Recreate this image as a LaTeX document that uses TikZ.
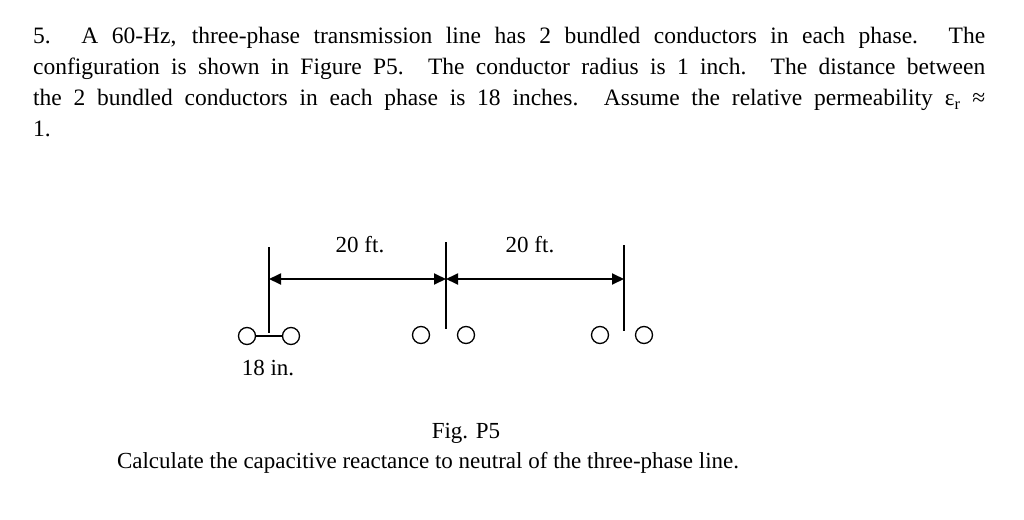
\documentclass[tikz,border=0pt]{standalone}
\usepackage{fontspec}
\setmainfont{Liberation Serif}
\usetikzlibrary{arrows.meta}
\begin{document}
\begin{tikzpicture}[x=1pt,y=-1pt,
  cond/.style={circle,draw,line width=1.3pt,minimum size=17pt,inner sep=0pt},
  tick/.style={line width=1.6pt},
  dim/.style={line width=1.8pt,{Triangle[length=12pt,width=11pt]}-{Triangle[length=12pt,width=11pt]}},
  lbl/.style={font=\fontsize{23}{28}\selectfont,inner sep=0pt}]
\useasboundingbox (0,0) rectangle (1024,519);
\node[anchor=north west,inner sep=0pt,text width=952pt,align=justify,font=\fontsize{23.5}{31}\selectfont] (para) at (33,27)
{5. A 60-Hz, three-phase transmission line has 2 bundled conductors in each phase. The\linebreak
configuration is shown in Figure P5. The conductor radius is 1 inch. The distance between\linebreak
the 2 bundled conductors in each phase is 18 inches. Assume the relative permeability ε\textsubscript{r} ≈\linebreak
1.};
\coordinate (l1) at (269,247); \coordinate (l2) at (269,333);
\coordinate (m1) at (446,242); \coordinate (m2) at (446,329);
\coordinate (r1) at (624,245); \coordinate (r2) at (624,331);
\draw[tick] (l1) -- (l2); \draw[tick] (m1) -- (m2); \draw[tick] (r1) -- (r2);
\coordinate (a1) at (269,279); \coordinate (a2) at (446,279); \coordinate (a3) at (624,279);
\draw[dim] (a1) -- (a2);
\draw[dim] (a2) -- (a3);
\node[cond] (c1) at (247,336) {}; \node[cond] (c2) at (291,336) {};
\node[cond] (c3) at (421,335) {}; \node[cond] (c4) at (466,335) {};
\node[cond] (c5) at (600,335) {}; \node[cond] (c6) at (644,335) {};
\draw[line width=1.3pt] (c1) -- (c2);
\node[lbl] (t1) at (360,245) {20 ft.};
\node[lbl] (t2) at (530,245) {20 ft.};
\node[lbl] (t3) at (268,368) {18 in.};
\node[lbl] (fig) at (466,433) {Fig. P5};
\node[lbl] (q) at (428,463) {Calculate the capacitive reactance to neutral of the three-phase line.};
\end{tikzpicture}
\end{document}
